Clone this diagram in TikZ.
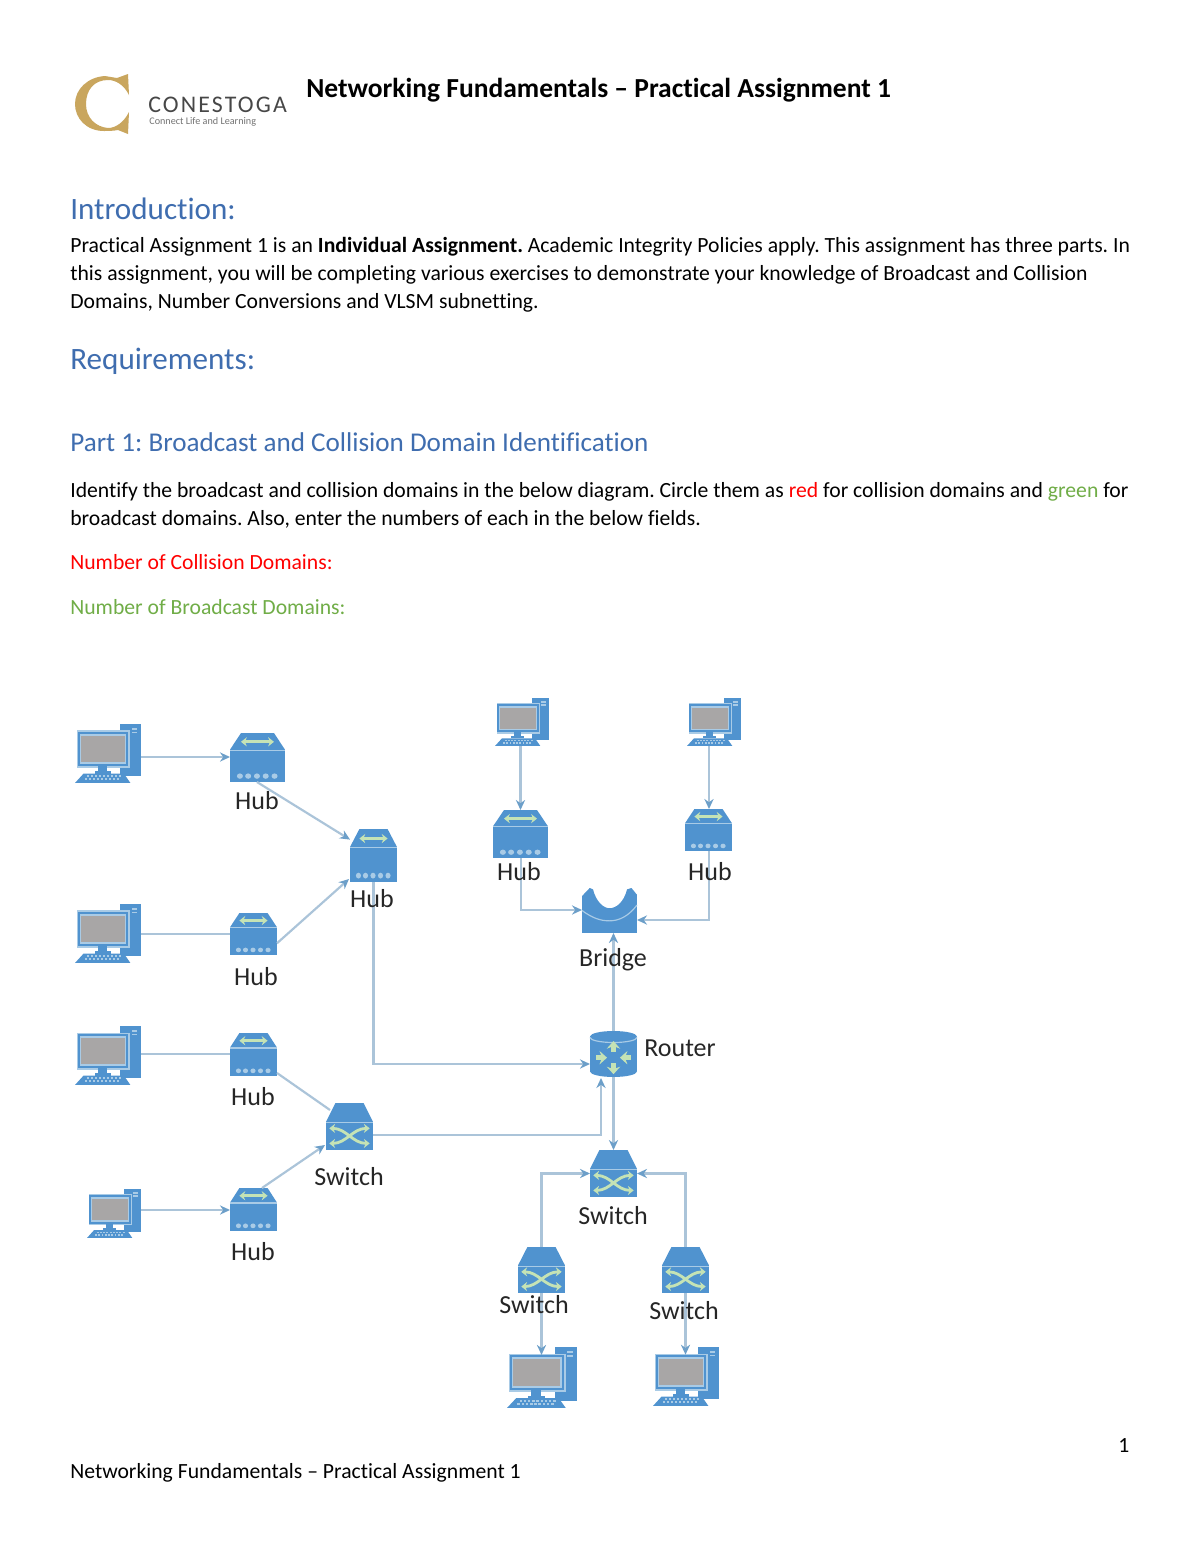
\documentclass[tikz,border=0pt]{standalone}
\usepackage{fontspec}
\setmainfont{Carlito}[Ligatures=NoCommon]
\usetikzlibrary{arrows.meta,calc}
\definecolor{devblue}{HTML}{5093CF}
\definecolor{devlight}{HTML}{A9CBE6}
\definecolor{devgreen}{HTML}{C5E3B5}
\definecolor{linkcol}{HTML}{ABC4D9}
\definecolor{tipcol}{HTML}{6C9FC9}
\definecolor{headcol}{HTML}{3F6DAF}
\definecolor{goldcol}{HTML}{C9A65E}
\definecolor{greencol}{HTML}{70AD47}
\definecolor{screencol}{HTML}{A8A6A6}
\tikzset{
  devbox/.style={inner sep=0pt,outer sep=0pt,anchor=north west},
  link/.style={draw=linkcol,line width=1.3pt},
  linkarrow/.style={link,-{Stealth[length=6pt,width=5.5pt,color=tipcol]}},
  lbl/.style={font=\fontsize{15.6}{18}\selectfont,text=black!85,inner sep=0pt},
  body/.style={font=\fontsize{13}{15}\selectfont,text=black,anchor=base west,inner sep=0pt},
  head/.style={font=\fontsize{18.66}{22}\selectfont,text=headcol,anchor=base west,inner sep=0pt},
  sub/.style={font=\fontsize{16.27}{19}\selectfont,text=headcol,anchor=base west,inner sep=0pt},
  devarrow/.style={devgreen,line width=1.7pt,{Stealth[length=3.5pt,width=5.5pt]}-{Stealth[length=3.5pt,width=5.5pt]}},
}
\newcommand\placebox[5]{\node[devbox,minimum width={#4*0.6pt},minimum height={#5*0.6pt}] (#1) at (#2,#3) {};}
\newcommand\devhub[5]{%
  \begin{scope}[shift={(#2,#3)},x={#4*0.006pt},y={-#5*0.006pt}]
    \fill[devblue] (20,0)--(80,0)--(100,34)--(100,100)--(0,100)--(0,34)--cycle;
    \draw[devlight,line width=0.7pt] (0,35)--(100,35);
    \draw[devarrow] (20,18)--(80,18);
    \foreach \dx in {18,33,49,65,81}{\fill[devlight] (\dx,88) ellipse (5.5 and 5.5);}
  \end{scope}
  \placebox{#1}{#2}{#3}{#4}{#5}}
\newcommand\devswitch[5]{%
  \begin{scope}[shift={(#2,#3)},x={#4*0.006pt},y={-#5*0.006pt}]
    \fill[devblue] (20,0)--(80,0)--(100,40)--(100,100)--(0,100)--(0,40)--cycle;
    \draw[devlight,line width=0.7pt] (0,42)--(100,42);
    \draw[devarrow] (7,54) to[out=0,in=180] (93,86);
    \draw[devarrow] (7,86) to[out=0,in=180] (93,54);
  \end{scope}
  \placebox{#1}{#2}{#3}{#4}{#5}}
\newcommand\devrouter[5]{%
  \begin{scope}[shift={(#2,#3)},x={#4*0.006pt},y={-#5*0.006pt}]
    \fill[devblue] (0,12) arc[start angle=180,end angle=360,x radius=50,y radius=12]--(100,88) arc[start angle=0,end angle=180,x radius=50,y radius=12]--cycle;
    \draw[devlight,line width=0.7pt] (0,14) arc[start angle=180,end angle=0,x radius=50,y radius=11];
    \foreach \r/\a/\b in {0/12/36,180/12/36}{
      \begin{scope}[shift={(50,58)},rotate=\r]
        \draw[devgreen,line width=3pt,-{Stealth[length=4.5pt,width=8pt]}] (0,\a)--(0,\b);
      \end{scope}}
    \foreach \r in {90,270}{
      \begin{scope}[shift={(50,58)},rotate=\r]
        \draw[devgreen,line width=3pt,-{Stealth[length=4.5pt,width=8pt]}] (0,38)--(0,14);
      \end{scope}}
  \end{scope}
  \placebox{#1}{#2}{#3}{#4}{#5}}
\newcommand\devbridge[5]{%
  \begin{scope}[shift={(#2,#3)},x={#4*0.006pt},y={-#5*0.006pt}]
    \fill[devblue] (0,18)--(14,0)--(20,3) .. controls (26,32) and (40,45) .. (50,45) .. controls (62,45) and (76,32) .. (82,3) -- (90,0)--(100,15)--(100,100)--(0,100)--cycle;
    \draw[devlight,line width=0.7pt] (0,50) .. controls (20,68) and (35,73) .. (50,73) .. controls (68,73) and (85,62) .. (100,38);
  \end{scope}
  \placebox{#1}{#2}{#3}{#4}{#5}}
\newcommand\devpc[5]{%
  \begin{scope}[shift={(#2,#3)},x={#4*0.006pt},y={-#5*0.006pt}]
    \fill[devblue] (68,0) rectangle (100,88);
    \fill[devlight] (86,6) rectangle (94,10);
    \fill[devlight] (86,13) rectangle (94,16);
    \fill[devlight] (3,11) rectangle (84,74);
    \fill[devblue] (4,13) rectangle (81,71);
    \fill[devlight] (7,17) rectangle (78,67);
    \fill[screencol] (9,20) rectangle (76,64);
    \fill[devblue] (35,71) rectangle (48,80);
    \fill[devblue] (30,80) rectangle (54,84);
    \fill[devblue] (13,84)--(74,84)--(84,100)--(0,100)--cycle;
    \foreach \dx in {18,24,30,36,42,48,54,60,66}{\fill[devlight] (\dx,87) rectangle ++(3.5,3);\fill[devlight] (\dx-3,92) rectangle ++(3.5,3);}
  \end{scope}
  \placebox{#1}{#2}{#3}{#4}{#5}
  \coordinate (#1-m) at ($(#1.north west)!0.42!(#1.north east)+(0,{#5*0.13})$);}
\begin{document}
\frenchspacing
\begin{tikzpicture}[x=0.6pt,y=-0.6pt]
\useasboundingbox (0,0) rectangle (1200,1553);
\fill[white] (0,0) rectangle (1200,1553);
% logo
\fill[goldcol] (128,74) -- (129,95) .. controls (124,85) and (116,80) .. (108,80) .. controls (94,80) and (86,90) .. (86,104) .. controls (86,118) and (96,127) .. (108,128) .. controls (116,128) and (124,122) .. (129,112) -- (128,134) -- (118,130) .. controls (113,131) and (108,131) .. (104,131) .. controls (86,131) and (75,118) .. (75,104) .. controls (75,89) and (88,77) .. (105,76) -- (117,78) -- cycle;
\node[font=\fontsize{14.3}{16}\selectfont\addfontfeatures{LetterSpace=9},text=black!72,anchor=base west,inner sep=0pt] (logoname) at (148,112) {CONESTOGA};
\node[font=\fontsize{6.1}{7}\selectfont,text=black!55,anchor=base west,inner sep=0pt] (logotag) at (149,124) {Connect Life and Learning};
% text
\node[font=\fontsize{16.5}{19}\selectfont\bfseries,anchor=base west,inner sep=0pt] (title) at (306,97) {Networking Fundamentals – Practical Assignment 1};
\node[head] (intro) at (70,219) {Introduction:};
\node[body] (l1) at (70,252) {Practical Assignment 1 is an \textbf{Individual Assignment.} Academic Integrity Policies apply. This assignment has three parts. In};
\node[body] (l2) at (70,280) {this assignment, you will be completing various exercises to demonstrate your knowledge of Broadcast and Collision};
\node[body] (l3) at (70,308) {Domains, Number Conversions and VLSM subnetting.};
\node[head] (req) at (70,369) {Requirements:};
\node[sub] (part) at (70,451) {Part 1: Broadcast and Collision Domain Identification};
\node[body] (l4) at (70,497) {Identify the broadcast and collision domains in the below diagram. Circle them as \textcolor{red}{red} for collision domains and \textcolor{greencol}{green} for};
\node[body] (l5) at (70,525) {broadcast domains. Also, enter the numbers of each in the below fields.};
\node[body,text=red] (l6) at (70,569) {Number of Collision Domains:};
\node[body,text=greencol] (l7) at (70,614) {Number of Broadcast Domains:};
\node[body] (pageno) at (1118,1452) {1};
\node[body] (foot) at (70,1478) {Networking Fundamentals – Practical Assignment 1};
% devices
\devpc{c1}{75}{724}{66}{59}
\devpc{c2}{75}{904}{66}{59}
\devpc{c3}{75}{1026}{66}{59}
\devpc{c4}{87}{1189}{54}{49}
\devpc{c5}{495}{698}{54}{48}
\devpc{c6}{687}{698}{54}{48}
\devpc{c7}{507}{1347}{70}{61}
\devpc{c8}{653}{1347}{66}{59}
\devhub{h1}{230}{733}{55}{49}
\devhub{h2}{230}{913}{47}{42}
\devhub{h3}{350}{829}{47}{53}
\devhub{h4}{230}{1033}{47}{43}
\devhub{h5}{230}{1188}{47}{43}
\devhub{h6}{493}{810}{55}{48}
\devhub{h7}{685}{809}{47}{42}
\devbridge{br}{582}{888}{55}{45}
\devrouter{rt}{590}{1031}{47}{46}
\devswitch{s1}{326}{1103}{47}{47}
\devswitch{s2}{590}{1150}{47}{47}
\devswitch{s3}{518}{1247}{47}{46}
\devswitch{s4}{662}{1247}{47}{46}
% connectors
\coordinate (j1) at (521,910);
\coordinate (j2) at (709,920);
\draw[linkarrow] (c1.east |- 0,757) -- (h1.west |- 0,757);
\draw[link] (c2.east |- 0,934) -- (h2.west |- 0,934);
\draw[link] (c3.east |- 0,1054) -- (h4.west |- 0,1054);
\draw[linkarrow] (c4.east |- 0,1210) -- (h5.west |- 0,1210);
\draw[linkarrow] ($(h1.south west)!0.49!(h1.south east)$) -- ($(h3.north west)!0.2!(h3.south west)$);
\draw[linkarrow] ($(h2.south east)!0.28!(h2.north east)$) -- ($(h3.south west)+(-1,-3)$);
\draw[linkarrow] (h3.south) -- (h3.south |- 0,1064) -- (rt.west |- 0,1064);
\draw[link] ($(h4.south east)!0.07!(h4.north east)$) -- ($(s1.north west)+(4,7)$);
\draw[linkarrow] ($(h5.north west)!0.68!(h5.north east)$) -- ($(s1.south west)+(-1,-5)$);
\draw[linkarrow] (s1.east |- 0,1135) -- (601,1135) -- (601,1078);
\draw[linkarrow] (rt.south) -- (s2.north);
\draw[linkarrow] (rt.north) -- (rt.north |- br.south);
\draw[linkarrow] (c5.south -| h6.south) -- ($(h6.north)$);
\draw[linkarrow] (c6.south -| j2) -- (j2 |- h7.north);
\draw[linkarrow] (h6.south -| j1) -- (j1) -- (br.west |- j1);
\draw[linkarrow] (h7.south -| j2) -- (j2) -- (br.east |- j2);
\draw[linkarrow] (s3.north) -- (s3.north |- s2.west) -- (s2.west);
\draw[linkarrow] (s4.north) -- (s4.north |- s2.east) -- (s2.east);
\draw[linkarrow] (s3.south) -- (s3.south |- c7-m);
\draw[linkarrow] (s4.south) -- (s4.south |- c8-m);
% labels
\node[lbl] (lh1) at (257,801) {Hub};
\node[lbl] (lh3) at (372,899) {Hub};
\node[lbl] (lh2) at (256,977) {Hub};
\node[lbl] (lh4) at (253,1097) {Hub};
\node[lbl] (lh5) at (253,1252) {Hub};
\node[lbl] (lh6) at (519,872) {Hub};
\node[lbl] (lh7) at (710,872) {Hub};
\node[lbl] (lbr) at (613,960) {Bridge};
\node[lbl] (lrt) at (680,1048) {Router};
\node[lbl] (ls1) at (349,1177) {Switch};
\node[lbl] (ls2) at (613,1216) {Switch};
\node[lbl] (ls3) at (534,1305) {Switch};
\node[lbl] (ls4) at (684,1311) {Switch};
\end{tikzpicture}
\end{document}
